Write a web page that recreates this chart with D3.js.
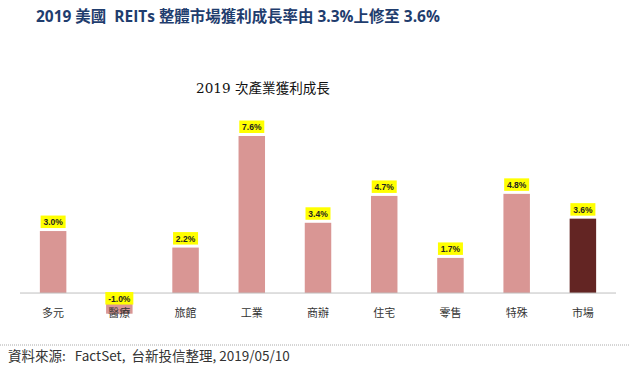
<!DOCTYPE html>
<html>
<head>
<meta charset="utf-8">
<script src="https://cdn.jsdelivr.net/npm/d3@7"></script>
<style>
    body { margin: 0; background: #fff; }
    svg { display: block; }
    text { white-space: pre; }
</style>
</head>
<body>
<svg id="chart" width="630" height="388"></svg>
<script>
// Sub-sector earnings growth, 2019 (%)
const categories = ['多元', '醫療', '旅館', '工業', '商辦', '住宅', '零售', '特殊', '市場'];
const growth = [3.0, -1.0, 2.2, 7.6, 3.4, 4.7, 1.7, 4.8, 3.6];
const highlight = '市場';

const svg = d3.select('#chart');
const width = 630;

// shrink/grow a text's font-size so it spans roughly the wanted width
function fitWidth(sel, target) {
    const node = sel.node();
    const fs = parseFloat(sel.attr('font-size'));
    const w = node.getComputedTextLength();
    if (w > 0) sel.attr('font-size', (fs * target / w).toFixed(2) + 'px');
}

// Headline
const headline = svg.append('text')
    .attr('x', 36)
    .attr('y', 22)
    .attr('font-family', 'Open Sans, Noto Sans CJK TC, sans-serif')
    .attr('font-size', '16px')
    .attr('font-weight', 'bold')
    .attr('fill', '#1f3d6e')
    .text('2019 美國  REITs 整體市場獲利成長率由 3.3%上修至 3.6%');
fitWidth(headline, 404);

// Chart title
const subTitle = svg.append('text')
    .attr('x', 263)
    .attr('y', 93)
    .attr('text-anchor', 'middle')
    .attr('font-family', 'DejaVu Serif, Noto Sans CJK TC, serif')
    .attr('font-size', '14px')
    .attr('fill', '#111')
    .text('2019 次產業獲利成長');
fitWidth(subTitle, 134);

const x = d3.scaleBand()
    .domain(categories)
    .range([20, 616])
    .paddingInner(0.6)
    .paddingOuter(0.3);

const y = d3.scaleLinear()
    .domain([-1, 7.6])
    .range([313.7, 136]);

const data = categories.map((c, i) => ({ cat: c, value: growth[i] }));

// Bars
svg.append('g')
    .selectAll('rect')
    .data(data)
    .join('rect')
    .attr('x', d => x(d.cat))
    .attr('width', x.bandwidth())
    .attr('y', d => y(Math.max(0, d.value)))
    .attr('height', d => Math.abs(y(d.value) - y(0)))
    .attr('fill', d => d.cat === highlight ? '#632523' : '#d99694');

// Baseline
svg.append('line')
    .attr('x1', 20).attr('x2', 616)
    .attr('y1', y(0)).attr('y2', y(0))
    .attr('stroke', '#bfbfbf')
    .attr('stroke-width', 1);

// Category labels
svg.append('g')
    .selectAll('text')
    .data(categories)
    .join('text')
    .attr('x', d => x(d) + x.bandwidth() / 2)
    .attr('y', 317)
    .attr('text-anchor', 'middle')
    .attr('font-family', 'Noto Sans CJK TC, sans-serif')
    .attr('font-size', '11px')
    .attr('fill', '#333')
    .text(d => d);

// Value labels with yellow boxes
const lbl = svg.append('g')
    .selectAll('g')
    .data(data)
    .join('g')
    .attr('transform', d => {
        const cx = x(d.cat) + x.bandwidth() / 2;
        const top = d.value >= 0 ? y(d.value) - 15.5 : y(0) - 1;
        return `translate(${cx},${top})`;
    });

lbl.append('rect')
    .attr('x', d => d.value < 0 ? -14 : -12.5)
    .attr('width', d => d.value < 0 ? 28 : 25)
    .attr('height', 12.5)
    .attr('fill', '#ffff00');

lbl.append('text')
    .attr('y', 9.5)
    .attr('text-anchor', 'middle')
    .attr('font-family', 'Liberation Sans, Arial, sans-serif')
    .attr('font-size', '8.5px')
    .attr('font-weight', 'bold')
    .attr('fill', '#222')
    .text(d => d.value.toFixed(1) + '%');

// Dotted separator
svg.append('line')
    .attr('x1', 0).attr('x2', width)
    .attr('y1', 345).attr('y2', 345)
    .attr('stroke', '#aaa')
    .attr('stroke-width', 1)
    .attr('stroke-dasharray', '1,1');

// Source
const source = svg.append('text')
    .attr('x', 8)
    .attr('y', 361)
    .attr('font-family', 'Noto Sans CJK TC, sans-serif')
    .attr('font-size', '14px')
    .attr('fill', '#333')
    .text('資料來源:   FactSet,  台新投信整理, 2019/05/10');
fitWidth(source, 282);
</script>
</body>
</html>
